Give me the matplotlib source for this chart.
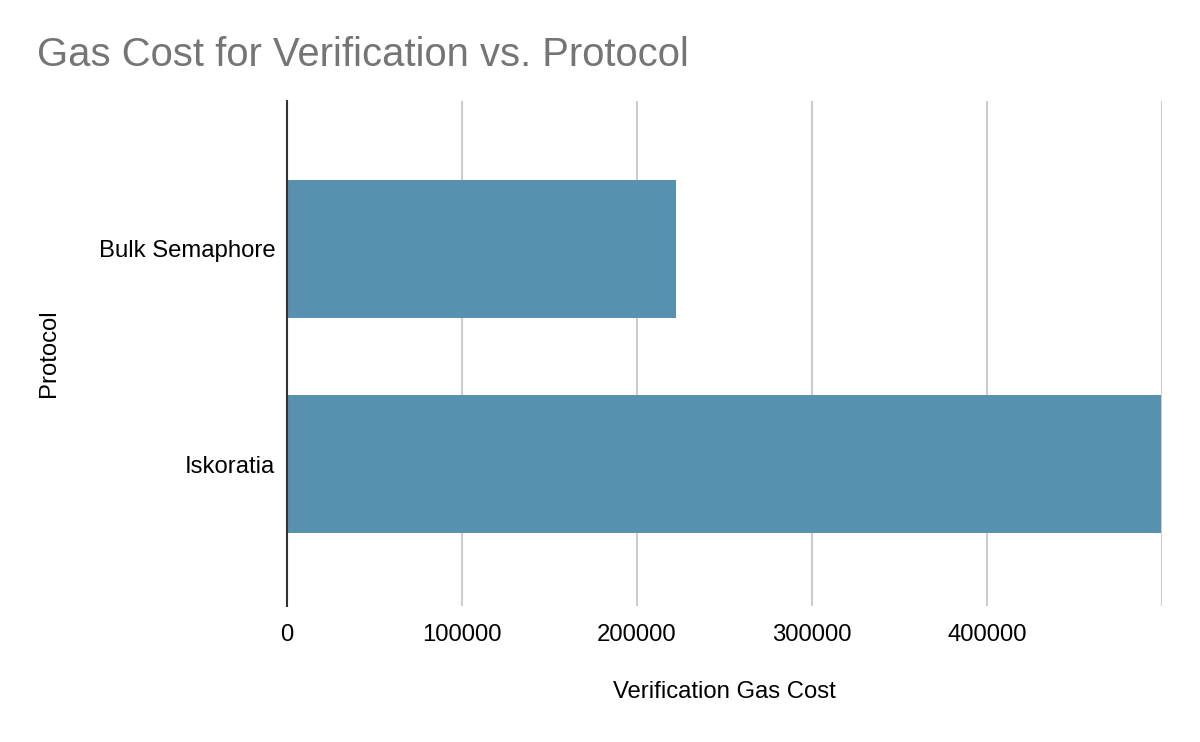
import matplotlib
matplotlib.use("Agg")
import matplotlib.pyplot as plt

categories = ["Bulk Semaphore", "Iskoratia"]
values = [222300, 499500]
xticks = [0, 100000, 200000, 300000, 400000, 500000]
xtick_labels = ["0", "100000", "200000", "300000", "400000", ""]

plt.rcParams['font.family'] = ['Liberation Sans', 'DejaVu Sans']

fig = plt.figure(figsize=(12, 7.42), dpi=100)
W, H = 1200, 742
left, right, top, bottom = 287, 1162, 101, 606
ax = fig.add_axes([left / W, 1 - bottom / H, (right - left) / W, (bottom - top) / H])

pos = list(range(len(categories)))
ax.barh(pos, values, height=0.64, color="#5891b0", zorder=3)
ax.set_ylim(1.657, -0.685)
ax.set_xlim(0, 500000)
ax.set_yticks(pos)
ax.set_yticklabels(categories, fontsize=17.2)
ax.set_xticks(xticks)
ax.set_xticklabels(xtick_labels, fontsize=17.2)
ax.tick_params(axis='both', length=0)
ax.tick_params(axis='x', pad=13)
ax.tick_params(axis='y', pad=8.5)
ax.grid(axis='x', color="#cccccc", linewidth=1.5, zorder=0)
for s in ['top', 'right', 'bottom']:
    ax.spines[s].set_visible(False)
ax.spines['left'].set_color("#333333")
ax.spines['left'].set_linewidth(1.5)
ax.spines['left'].set_zorder(4)

ax.set_xlabel("Verification Gas Cost", fontsize=17.2, labelpad=25.5)
ax.set_ylabel("Protocol", fontsize=17.2, labelpad=28)

fig.text(37 / W, 1 - 55 / H, "Gas Cost for Verification vs. Protocol", fontsize=28.8,
         color="#757575", va="center", ha="left")

fig.savefig("out.png", dpi=100)
